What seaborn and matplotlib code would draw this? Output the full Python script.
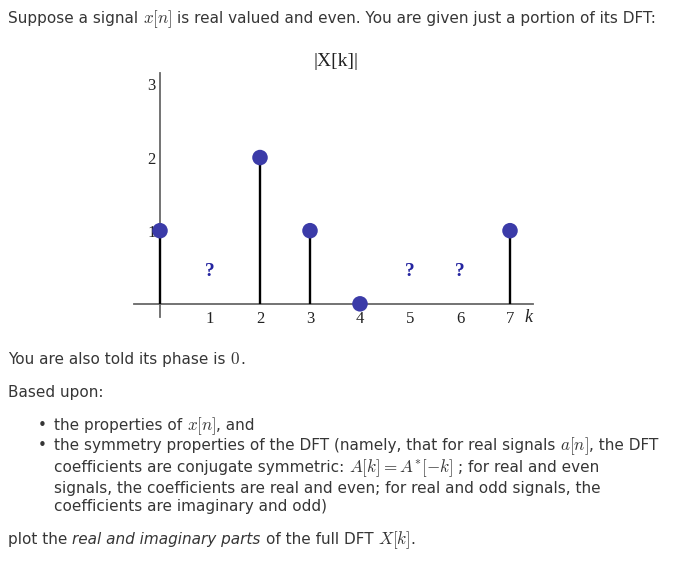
import matplotlib
matplotlib.use("Agg")
import matplotlib.pyplot as plt
import seaborn as sns
import pandas as pd

# ---- data ----
k_known = [0, 2, 3, 4, 7]
mag_known = [1, 2, 1, 0, 1]
k_unknown = [1, 5, 6]
x_ticks = [1, 2, 3, 4, 5, 6, 7]
y_ticks = [1, 2, 3]
title = "|X[k]|"

W, H = 687, 563
sns.set_theme(style="white")
plt.rcParams["font.family"] = ["DejaVu Sans"]
plt.rcParams["mathtext.fontset"] = "cm"

fig = plt.figure(figsize=(W / 100, H / 100), dpi=100)
fig.patch.set_facecolor("white")
renderer = fig.canvas.get_renderer()

TXT = "#363636"
AX = "#686868"
DOT = "#3b3ba8"
QCOL = "#2424a0"
SERIF = "Liberation Serif"

# ---- stem plot ----
ax = fig.add_axes([134 / W, (H - 317) / H, 399 / W, (317 - 72.7) / H])
ax.set_facecolor("none")
ax.set_xlim(-0.52, 7.46)
ax.set_ylim(-0.18, 3.16)
for s in ["top", "right"]:
    ax.spines[s].set_visible(False)
for s in ["left", "bottom"]:
    ax.spines[s].set_position(("data", 0))
    ax.spines[s].set_color(AX)
    ax.spines[s].set_linewidth(1.3)

df = pd.DataFrame({"k": k_known, "mag": mag_known})
ax.vlines(df["k"], 0, df["mag"], color="black", lw=1.7, zorder=3)
sns.scatterplot(data=df, x="k", y="mag", s=125, color=DOT, edgecolor="none",
                zorder=4, ax=ax, legend=False, clip_on=False)
for kk in k_unknown:
    ax.text(kk, 0.44, "?", ha="center", va="center", color=QCOL,
            fontsize=14, fontweight="bold", family=SERIF, zorder=3)

ax.set_xticks(x_ticks)
ax.set_xticklabels([str(v) for v in x_ticks])
ax.set_yticks(y_ticks)
ax.set_yticklabels([str(v) for v in y_ticks])
ax.tick_params(direction="in", length=4, width=1, color=AX, labelsize=12,
               labelcolor="#222222", pad=3)
ax.tick_params(axis="x", pad=5)
for lab in ax.get_xticklabels() + ax.get_yticklabels():
    lab.set_family(SERIF)
ax.set_xlabel("")
ax.set_ylabel("")
ax.text(7.37, -0.19, "k", ha="center", va="center", fontsize=13,
        style="italic", family=SERIF, color="#222222", clip_on=False)
fig.text(336 / W, 1 - 61 / H, title, ha="center", va="center",
         fontsize=14, family=SERIF, color="#222222")

# ---- text block ----
line1 = [("Suppose a signal ", "n"), ("$x[n]$", "m"),
         (" is real valued and even. You are given just a portion of its DFT:", "n")]


def measure(txt, fs, **kw):
    t = fig.text(0, 0, txt, fontsize=fs, **kw)
    w = t.get_window_extent(renderer).width
    t.remove()
    return w


base_fs = 10.0
sp0 = measure("a a", base_fs) - measure("aa", base_fs)


def line_width(segs, fs, sp):
    w = 0
    for s, kind in segs:
        lead = len(s) - len(s.lstrip(" "))
        trail = len(s) - len(s.rstrip(" "))
        kw = {"style": "italic"} if kind == "i" else {}
        w += (lead + trail) * sp + measure(s.strip(), fs, **kw)
    return w


w0 = line_width(line1, base_fs, sp0)
FS = base_fs * (652 - 8) / w0
SP = measure("a a", FS) - measure("aa", FS)
MFS = FS * 1.12


def draw_line(x, yb, segs):
    cur = x
    for s, kind in segs:
        lead = len(s) - len(s.lstrip(" "))
        trail = len(s) - len(s.rstrip(" "))
        cur += lead * SP
        kw = {}
        fs = FS
        if kind == "i":
            kw["style"] = "italic"
        if kind == "m":
            fs = MFS
        t = fig.text(cur / W, 1 - yb / H, s.strip(), fontsize=fs, color=TXT,
                     ha="left", va="baseline", **kw)
        cur = t.get_window_extent(renderer).x1 + trail * SP


draw_line(8, 23, line1)
draw_line(8, 364, [("You are also told its phase is ", "n"), ("$0$", "m"), (".", "n")])
draw_line(8, 397, [("Based upon:", "n")])
draw_line(38, 430, [("\u2022", "n")])
draw_line(54, 430, [("the properties of ", "n"), ("$x[n]$", "m"), (", and", "n")])
draw_line(38, 450, [("\u2022", "n")])
draw_line(54, 450, [("the symmetry properties of the DFT (namely, that for real signals ", "n"),
                    ("$a[n]$", "m"), (", the DFT", "n")])
draw_line(54, 472, [("coefficients are conjugate symmetric: ", "n"),
                    ("$A[k] = A^{*}[-k]$", "m"), (" ; for real and even", "n")])
draw_line(54, 493, [("signals, the coefficients are real and even; for real and odd signals, the", "n")])
draw_line(54, 511, [("coefficients are imaginary and odd)", "n")])
draw_line(8, 544, [("plot the ", "n"), ("real and imaginary parts", "i"),
                   (" of the full DFT ", "n"), ("$X[k]$", "m"), (".", "n")])

fig.savefig("out.png", dpi=100, facecolor="white")
